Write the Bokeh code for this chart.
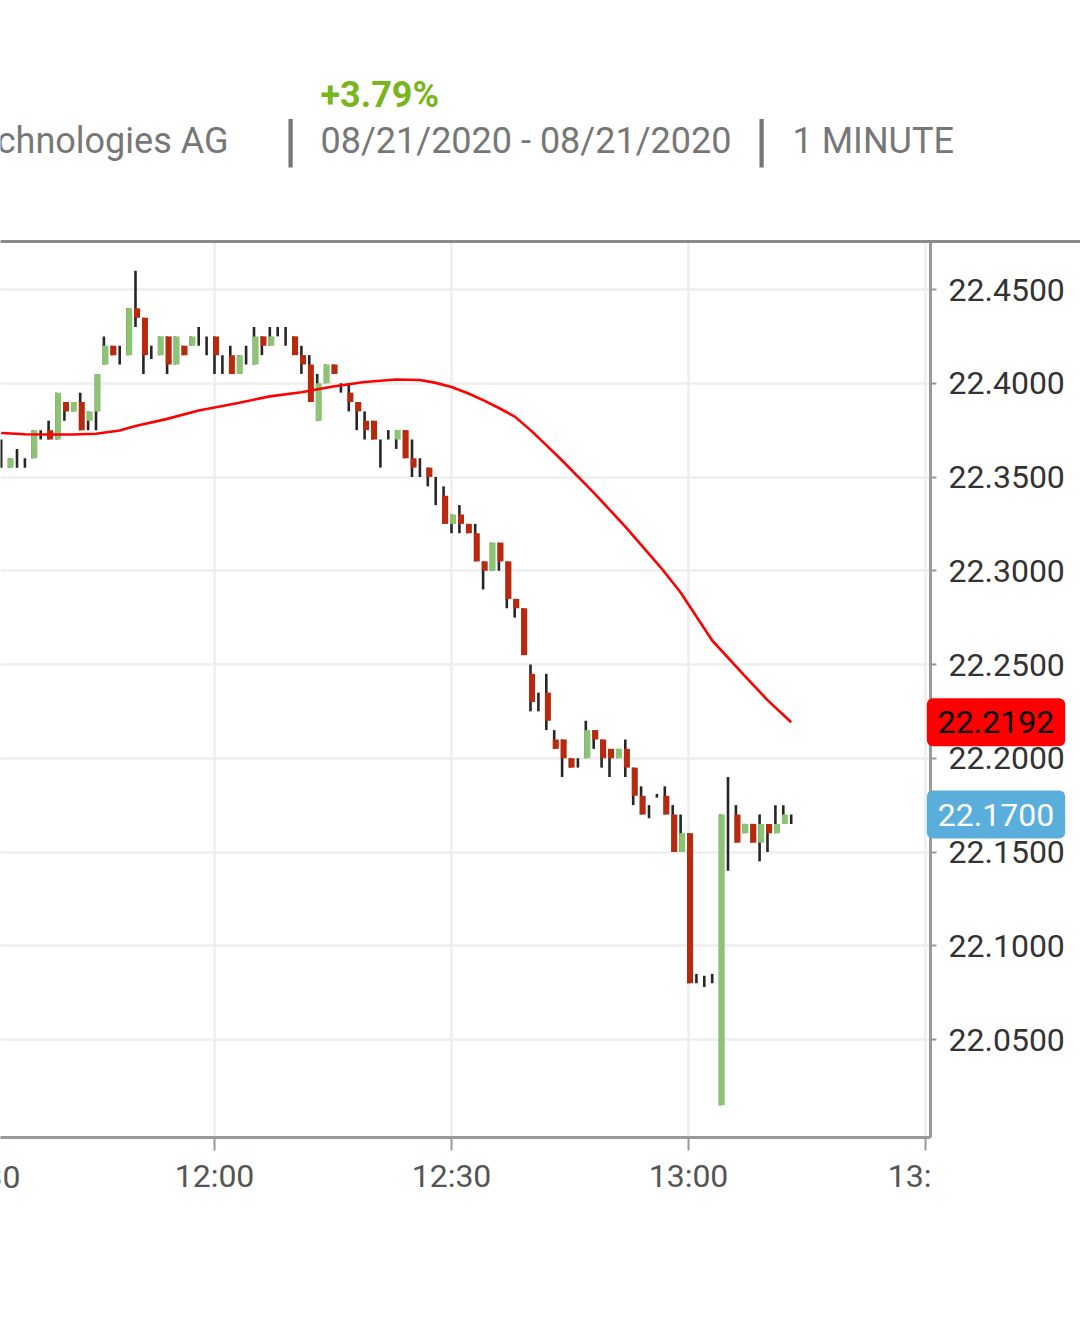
import pandas as pd
from bokeh.plotting import figure
from bokeh.layouts import column
from bokeh.models import (Range1d, FixedTicker, DatetimeTickFormatter, LinearAxis,
                          Label, PrintfTickFormatter, ColumnDataSource)
from bokeh.embed import file_html
from bokeh.resources import INLINE

# ---------------- data ----------------
first_bar = "2020-08-21 11:33"
opens = [22.36, 22.355, 22.36, 22.36, 22.36, 22.37, 22.375, 22.37, 22.39, 22.385,
         22.39, 22.38, 22.385, 22.41, 22.42, 22.415, 22.415, 22.44, 22.435, 22.415,
         22.415, 22.425, 22.41, 22.42, 22.42, 22.425, 22.42, 22.425, 22.41, 22.415,
         22.405, 22.415, 22.41, 22.425, 22.42, 22.425, 22.425, 22.425, 22.415, 22.41,
         22.38, 22.40, 22.41, 22.395, 22.395, 22.39, 22.38, 22.38, 22.365, 22.37,
         22.37, 22.375, 22.36, 22.355, 22.355, 22.34, 22.34, 22.325, 22.33, 22.325,
         22.32, 22.305, 22.30, 22.315, 22.305, 22.285, 22.28, 22.245, 22.23, 22.235,
         22.21, 22.21, 22.20, 22.195, 22.20, 22.215, 22.21, 22.205, 22.20, 22.205,
         22.195, 22.18, 22.17, 22.18, 22.18, 22.17, 22.15, 22.16, 22.08, 22.08,
         22.08, 22.015, 22.17, 22.17, 22.16, 22.165, 22.155, 22.165, 22.16, 22.165,
         22.17]
highs = [22.37, 22.36, 22.365, 22.36, 22.375, 22.375, 22.38, 22.395, 22.39, 22.39,
         22.395, 22.385, 22.405, 22.425, 22.42, 22.42, 22.44, 22.46, 22.435, 22.42,
         22.425, 22.425, 22.425, 22.42, 22.425, 22.43, 22.425, 22.425, 22.415, 22.42,
         22.415, 22.42, 22.43, 22.425, 22.43, 22.43, 22.43, 22.425, 22.42, 22.415,
         22.405, 22.41, 22.41, 22.40, 22.40, 22.39, 22.385, 22.38, 22.37, 22.375,
         22.375, 22.375, 22.37, 22.36, 22.355, 22.35, 22.345, 22.33, 22.335, 22.325,
         22.325, 22.305, 22.315, 22.315, 22.305, 22.285, 22.28, 22.25, 22.235, 22.245,
         22.215, 22.21, 22.20, 22.20, 22.22, 22.215, 22.21, 22.205, 22.205, 22.21,
         22.195, 22.185, 22.175, 22.181, 22.185, 22.175, 22.17, 22.16, 22.085, 22.084,
         22.085, 22.17, 22.19, 22.175, 22.165, 22.165, 22.17, 22.165, 22.175, 22.175,
         22.17]
lows = [22.355, 22.355, 22.355, 22.355, 22.36, 22.37, 22.37, 22.37, 22.38, 22.385,
        22.375, 22.375, 22.375, 22.41, 22.415, 22.41, 22.415, 22.43, 22.405, 22.413,
        22.415, 22.405, 22.41, 22.415, 22.42, 22.42, 22.415, 22.405, 22.405, 22.405,
        22.405, 22.41, 22.41, 22.415, 22.42, 22.425, 22.42, 22.415, 22.405, 22.39,
        22.38, 22.40, 22.405, 22.395, 22.385, 22.375, 22.37, 22.37, 22.355, 22.37,
        22.365, 22.36, 22.35, 22.35, 22.345, 22.335, 22.325, 22.32, 22.32, 22.32,
        22.305, 22.29, 22.30, 22.30, 22.28, 22.275, 22.255, 22.225, 22.225, 22.215,
        22.205, 22.19, 22.195, 22.195, 22.20, 22.205, 22.195, 22.19, 22.20, 22.19,
        22.175, 22.17, 22.168, 22.179, 22.17, 22.15, 22.15, 22.08, 22.08, 22.078,
        22.08, 22.015, 22.14, 22.155, 22.16, 22.155, 22.145, 22.15, 22.16, 22.165,
        22.165]
closes = [22.36, 22.36, 22.36, 22.36, 22.375, 22.37, 22.37, 22.395, 22.385, 22.39,
          22.375, 22.385, 22.405, 22.42, 22.415, 22.415, 22.44, 22.435, 22.415, 22.415,
          22.425, 22.41, 22.425, 22.415, 22.425, 22.425, 22.42, 22.415, 22.41, 22.405,
          22.415, 22.415, 22.425, 22.42, 22.425, 22.425, 22.425, 22.415, 22.41, 22.39,
          22.40, 22.41, 22.405, 22.395, 22.39, 22.385, 22.375, 22.37, 22.365, 22.37,
          22.375, 22.36, 22.355, 22.355, 22.35, 22.34, 22.325, 22.33, 22.325, 22.32,
          22.305, 22.30, 22.315, 22.305, 22.285, 22.28, 22.255, 22.23, 22.23, 22.22,
          22.205, 22.20, 22.195, 22.195, 22.215, 22.21, 22.20, 22.20, 22.205, 22.195,
          22.18, 22.17, 22.17, 22.18, 22.17, 22.15, 22.16, 22.08, 22.08, 22.08,
          22.08, 22.17, 22.17, 22.155, 22.165, 22.155, 22.165, 22.16, 22.165, 22.17,
          22.17]

# moving average line: minutes after 12:00 and value
ma_minutes = [-27, -24, -21, -18, -15, -12, -10, -6, -2, 3, 7, 11, 15, 19, 23, 26, 28,
              30, 32, 34, 36, 38, 40, 42, 44, 48, 52, 56.5, 59, 63, 67, 70, 73]
ma_values = [22.3735, 22.3728, 22.3727, 22.3727, 22.3731, 22.3748, 22.3772, 22.381,
             22.3855, 22.3895, 22.393, 22.3952, 22.3983, 22.4007, 22.402, 22.4017,
             22.4002, 22.398, 22.3948, 22.391, 22.3868, 22.3822, 22.375, 22.367,
             22.3588, 22.3417, 22.3235, 22.3017, 22.2884, 22.2628, 22.2445, 22.231, 22.2192]

y_ticks = [22.05, 22.10, 22.15, 22.20, 22.25, 22.30, 22.35, 22.40, 22.45]
x_tick_labels = ["12:00", "12:30", "13:00", "13:30"]
last_ma = 22.2192
last_price = 22.17

title_name = "Technologies AG"
title_change = "+3.79%"
title_dates = "08/21/2020 - 08/21/2020"
title_interval = "1 MINUTE"

# ---------------- layout helpers ----------------
DAY = "2020-08-21 "
noon = pd.Timestamp(DAY + "12:00")
PX_PER_MIN = 7.9          # layout constant
PX_PER_UNIT = 1875.0      # layout constant
HEAD_H = 181              # header figure height (px)
HEAD_TOP = 60             # header's top border (holds one label)
RIGHT_B = 150             # right border (price axis)


def t_at(px):
    """time at a horizontal pixel of the page"""
    return noon + pd.Timedelta(minutes=(px - 214) / PX_PER_MIN)


def p_at(py):
    """price at a vertical pixel of the page"""
    return 22.45 - (py - 289) / PX_PER_UNIT


def ms(ts):
    return ts.value // 10**6


GREEN = "#8cc473"
RED = "#b8290e"
WICK = "#262626"
GRAY_TXT = "#777777"
RULE = "#8a8a8a"

# ---------------- header (its data units are page pixels) ----------------
head = figure(width=1080, height=HEAD_H, x_range=Range1d(0, 1080 - RIGHT_B),
              y_range=Range1d(HEAD_H, HEAD_TOP),
              x_axis_location=None, y_axis_location=None, output_backend="svg",
              toolbar_location=None, min_border_left=0, min_border_right=RIGHT_B,
              min_border_top=HEAD_TOP, min_border_bottom=0)
head.outline_line_color = None
head.xgrid.visible = False
head.ygrid.visible = False
head.background_fill_color = "white"
head.border_fill_color = "white"

hdr = dict(text_font="Roboto", text_font_size="36px", text_color=GRAY_TXT,
           text_baseline="alphabetic")
head.add_layout(Label(x=228, y=140.5, text=title_name, text_align="right", **hdr))
head.add_layout(Label(x=320, y=140.5, text=title_dates, text_align="left", **hdr))
# this one crosses the frame's right edge: put it in a side panel so it is not clipped
head.add_layout(Label(x=792, y=140.5, text=title_interval, text_align="left", **hdr), "above")
for sx in (290, 761):
    head.add_layout(Label(x=sx, y=139.5, text="|", text_align="center", text_font="Roboto",
                          text_font_size="58px", text_color=GRAY_TXT,
                          text_baseline="alphabetic"))
head.add_layout(Label(x=320, y=94, text=title_change, text_align="left", text_font="Roboto",
                      text_font_size="36px", text_font_style="bold", text_color="#79b51c",
                      text_baseline="alphabetic"))

# ---------------- chart ----------------
times = pd.date_range(first_bar, periods=len(opens), freq="min")
df = pd.DataFrame(dict(t=times, o=opens, h=highs, l=lows, c=closes))
df["tb"] = df.t + pd.Timedelta(seconds=12)
df["top"] = df[["o", "c"]].max(axis=1)
df["bot"] = df[["o", "c"]].min(axis=1)
inc = ColumnDataSource(df[df.c > df.o])
dec = ColumnDataSource(df[df.c < df.o])
allsrc = ColumnDataSource(df)

x_start, x_end = t_at(0), t_at(1080 - RIGHT_B)
y_top, y_bot = p_at(241), p_at(1137)

p = figure(width=1080, height=1317 - HEAD_H, x_axis_type="datetime", y_axis_location="right",
           x_range=Range1d(x_start, x_end), y_range=Range1d(y_bot, y_top),
           output_backend="svg", toolbar_location=None,
           min_border_left=0, min_border_right=RIGHT_B, min_border_top=241 - HEAD_H,
           min_border_bottom=180)
p.outline_line_color = None
p.background_fill_color = "white"
p.border_fill_color = "white"

x_ticks = [ms(pd.Timestamp(DAY + s)) for s in x_tick_labels]
xax = p.xaxis[0]
xax.ticker = FixedTicker(ticks=x_ticks)
xax.formatter = DatetimeTickFormatter(minutes="%H:%M", hourmin="%H:%M", hours="%H:%M",
                                      minsec="%H:%M", seconds="%H:%M", context=None)
# the last label is cut by the chart's right edge in the original
xax.major_label_overrides = {x_ticks[-1]: "13:" + "\u00a0" * 4}
xax.axis_line_color = "#9a9a9a"
xax.axis_line_width = 3
xax.major_tick_line_color = "#9a9a9a"
xax.major_tick_line_width = 2
xax.major_tick_in = 0
xax.major_tick_out = 13
xax.minor_tick_line_color = None
xax.major_label_standoff = 6
xax.major_label_text_font = "Roboto"
xax.major_label_text_font_size = "32px"
xax.major_label_text_color = "#555555"

yax = p.yaxis[0]
yax.ticker = FixedTicker(ticks=y_ticks)
yax.formatter = PrintfTickFormatter(format="%.4f")
yax.axis_line_color = "#9a9a9a"
yax.axis_line_width = 3
yax.major_tick_line_color = "#9a9a9a"
yax.major_tick_line_width = 2
yax.major_tick_in = 0
yax.major_tick_out = 6
yax.minor_tick_line_color = None
yax.major_label_standoff = 12
yax.major_label_text_font = "Roboto"
yax.major_label_text_font_size = "32px"
yax.major_label_text_color = "#333333"

top_axis = LinearAxis(ticker=FixedTicker(ticks=[]), axis_line_color=RULE,
                      axis_line_width=3, major_tick_line_color=None, minor_tick_line_color=None,
                      major_label_text_font_size="0px", major_label_standoff=0)
p.add_layout(top_axis, "above")
# the top rule runs on to the page's right edge
p.add_layout(Label(x=ms(t_at(1005)), y=y_top, text="\u00a0", text_font_size="1px",
                   text_align="center", text_baseline="middle", background_fill_color=RULE,
                   padding=dict(left=76, right=76, top=1, bottom=1)), "above")

for g in (p.xgrid[0], p.ygrid[0]):
    g.grid_line_color = "#eeeeee"
    g.grid_line_width = 2.5

# candles
p.segment(x0="t", y0="h", x1="t", y1="l", source=allsrc, line_color=WICK, line_width=2.6)
p.vbar(x="tb", width=45600, top="top", bottom="bot", source=inc,
       fill_color=GREEN, line_color=None)
p.vbar(x="tb", width=45600, top="top", bottom="bot", source=dec,
       fill_color=RED, line_color=None)

# moving average
ma_t = [noon + pd.Timedelta(minutes=m) for m in ma_minutes]
p.line(ma_t, ma_values, line_color="#ff0000", line_width=2.6)

# partially visible first time label (side panel, so the frame does not clip it)
p.add_layout(Label(x=ms(t_at(20)), y=p_at(1176), text="11:30", text_align="right",
                   text_font="Roboto", text_font_size="32px", text_color="#555555",
                   text_baseline="alphabetic"), "above")

# price tags
tag = dict(text_font="Roboto", text_font_size="32px", text_align="center",
           text_baseline="middle", border_radius=6,
           padding=dict(left=11, right=11, top=13, bottom=13))
p.add_layout(Label(x=ms(t_at(995.5)), y=last_ma, text=f"{last_ma:.4f}", text_color="black",
                   background_fill_color="#ff0000", **tag), "below")
p.add_layout(Label(x=ms(t_at(995.5)), y=last_price, text=f"{last_price:.4f}", text_color="white",
                   background_fill_color="#5aaedb", **tag), "below")

layout = column(head, p, spacing=0)
open("out.html", "w").write(file_html(layout, INLINE))
